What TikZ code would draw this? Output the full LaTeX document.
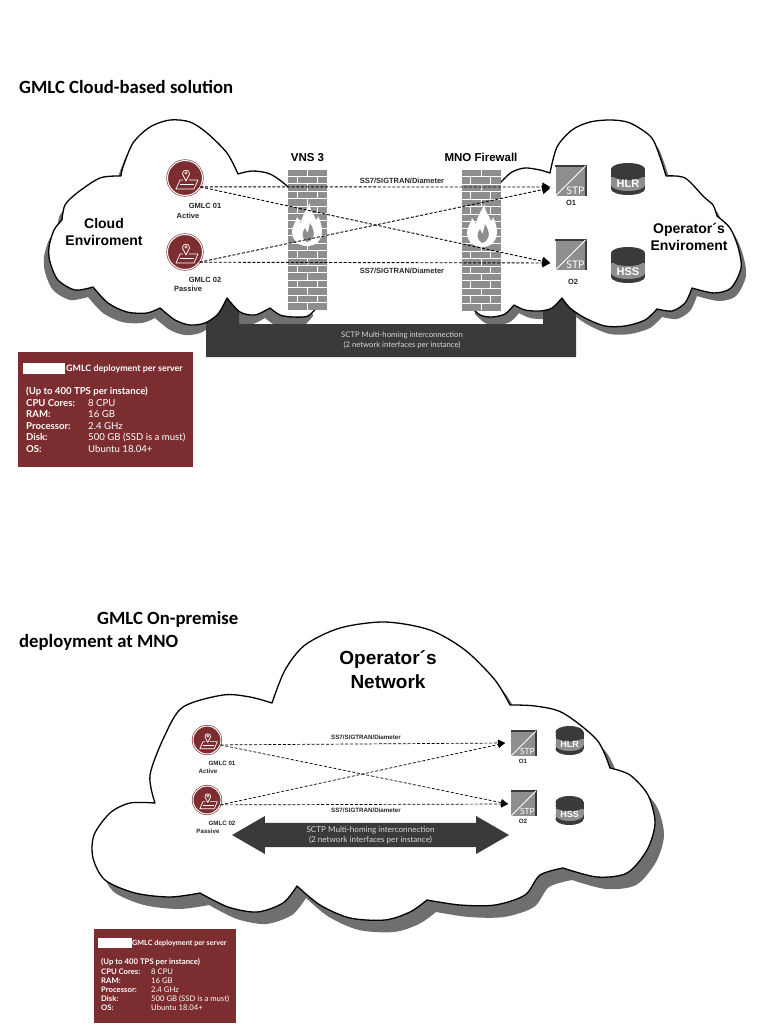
\documentclass[tikz,border=0pt]{standalone}
\usepackage{fontspec}
\setmainfont{Liberation Sans}
\newfontfamily\titlefont{Carlito}
\newfontfamily\boxfont{Lato}
\usetikzlibrary{calc}
\usetikzlibrary{positioning}
\usetikzlibrary{arrows.meta}
\usetikzlibrary{shapes.arrows}

\definecolor{maroon}{HTML}{7B2D30}
\definecolor{slab}{HTML}{3A3A3C}
\definecolor{shade}{HTML}{6F6F71}
\definecolor{brick}{HTML}{8E8E90}

\newcommand{\fsize}[1]{\fontsize{#1}{#1}\selectfont}

\tikzset{
    heading/.style={font=\titlefont\bfseries\fsize{18.7}, inner sep=0pt, anchor=west},
    tag/.style={font=\bfseries\fsize{#1}, inner sep=0pt, align=center},
    tiny/.style={font=\bfseries\fsize{#1}, inner sep=0pt, text=black!85},
    bodytext/.style={font=\boxfont\fsize{#1}, inner sep=0pt, text=black!15, align=center},
    spec/.style={font=\boxfont\fsize{#1}, inner sep=0pt, text=white, anchor=west},
    specb/.style={font=\boxfont\bfseries\fsize{#1}, inner sep=0pt, text=white, anchor=west},
    gmlc/.style={circle, draw=maroon, double=white, double distance=1pt, line width=.6pt, fill=maroon, inner sep=0pt},
    wall/.style={rectangle, fill=brick, inner sep=0pt, minimum width=39pt, minimum height=141pt},
    stpbox/.style={rectangle, fill=brick, inner sep=0pt},
    link/.style={dash pattern=on 3pt off 1.8pt, line width=.9pt, black},
    cloudshape/.style={fill=white, draw=black, line width=1.3pt, line join=round},
    cloudshade/.style={fill=shade},
    gmlcicon/.pic={
        \draw[white, line width=.7pt, line join=round]
            (-2,2) -- (-5,2) -- (-9,11) -- (9,11) -- (13,2) -- (4,2);
        \draw[white, line width=.6pt] (-5,6) -- (9,6);
        \draw[white, line width=.7pt, line join=round]
            (1,3) -- (-2.5,-4) .. controls (-3.5,-9) and (5.5,-9) .. (4.5,-4) -- cycle;
        \draw[white, line width=.5pt] (1,-5) circle (1.2);
    },
}

% one course of bricks after the other
\newcommand{\brickwall}[2]{
    \foreach \r in {0,...,18} {
        \pgfmathsetmacro{\yy}{#2+\r*7.42}
        \draw[white, line width=.9pt] (#1,\yy) -- (#1+39,\yy);
        \pgfmathparse{int(mod(\r,2))}
        \ifnum\pgfmathresult=0
            \draw[white, line width=.9pt] (#1+19.5,\yy) -- (#1+19.5,\yy+7.42);
        \else
            \draw[white, line width=.9pt] (#1+9,\yy) -- (#1+9,\yy+7.42);
            \draw[white, line width=.9pt] (#1+29,\yy) -- (#1+29,\yy+7.42);
        \fi
    }
}

\newcommand{\flame}[2]{
    \begin{scope}[shift={(#1,#2)}]
        \fill[white] (0,22) .. controls (-10,22) and (-15,15) .. (-15,8)
            .. controls (-15,2) and (-11,-2) .. (-10,-7)
            .. controls (-8,-4) and (-7,-3) .. (-6,-1)
            .. controls (-5,-8) and (-1,-14) .. (3,-21)
            .. controls (2,-14) and (7,-10) .. (9,-4)
            .. controls (10,-5) and (11,-6) .. (11,-8)
            .. controls (14,-2) and (15,3) .. (15,8)
            .. controls (15,15) and (10,22) .. (0,22) -- cycle;
        \fill[brick] (0,18) .. controls (-5,15) and (-6,9) .. (-2,4)
            .. controls (-1,7) and (0,8) .. (1,9)
            .. controls (1,5) and (3,2) .. (3,-1)
            .. controls (6,4) and (8,9) .. (6,13)
            .. controls (5,16) and (3,17) .. (0,18) -- cycle;
    \end{scope}
}

% dark body, lighter band, dark lid
\newcommand{\database}[7]{
    \fill[slab] (#2-#5,#3-#6+6) rectangle (#2+#5,#3+#6-6);
    \fill[slab] (#2,#3+#6-6) ellipse [x radius=#5, y radius=6];
    \fill[brick] (#2-#5,#3-2) rectangle (#2+#5,#3+#6-10);
    \fill[brick] (#2,#3+#6-10) ellipse [x radius=#5, y radius=6];
    \fill[slab] (#2-#5,#3-#6+6) rectangle (#2+#5,#3-5);
    \fill[slab] (#2,#3-5) ellipse [x radius=#5, y radius=6];
    \fill[slab] (#2,#3-#6+6) ellipse [x radius=#5, y radius=6];
    \node[tag=#7, text=white] (#1) at (#2,#3+#6-11) {#4};
}

\def\cloudleft{
    (121,176) -- plot[smooth] coordinates {(121,176) (123,167) (133,143) (150,127) (170,120) (190,122) (207,133) (227,153) (238,174)}
    -- plot[smooth] coordinates {(238,174) (252,171) (270,174) (288,187) (300,205)}
    -- (318,306)
    -- plot[smooth] coordinates {(318,306) (308,316) (293,317) (280,315) (270,308)}
    -- plot[smooth] coordinates {(270,308) (255,315) (240,312) (227,298)}
    -- plot[smooth] coordinates {(227,298) (218,314) (205,323) (190,325) (175,320) (160,308)}
    -- plot[smooth] coordinates {(160,308) (147,313) (127,312) (108,303) (93,287)}
    -- plot[smooth] coordinates {(93,287) (75,290) (58,280) (50,262) (49,247) (54,230) (62,220)}
    -- plot[smooth] coordinates {(62,220) (65,205) (77,193) (100,178) (121,176)}
    -- cycle
}
\def\cloudright{
    (550,173) -- plot[smooth] coordinates {(550,173) (557,147) (572,130) (590,122) (611,120) (630,123) (651,137) (660,157) (666,176)}
    -- plot[smooth] coordinates {(666,176) (685,178) (704,197) (713,205) (717,216)}
    -- plot[smooth] coordinates {(717,216) (730,228) (738,247) (741,268) (731,288) (714,293) (692,288)}
    -- plot[smooth] coordinates {(692,288) (685,303) (672,311) (657,309)}
    -- plot[smooth] coordinates {(657,309) (645,320) (625,326) (605,326) (585,318) (570,308) (562,298)}
    -- plot[smooth] coordinates {(562,298) (552,308) (540,311) (525,310) (514,305)}
    -- plot[smooth] coordinates {(514,305) (505,314) (492,317) (480,315) (470,306)}
    -- (480,200)
    -- plot[smooth] coordinates {(490,195) (501,182) (512,172) (525,168) (540,170) (550,173)}
    -- cycle
}
\def\cloudnet{
    (272,703) -- plot[smooth] coordinates {(272,703) (285,670) (305,645) (340,628) (385,622) (430,630) (465,650) (495,680) (510,705)}
    -- plot[smooth] coordinates {(510,705) (535,706) (563,713) (597,740) (610,768)}
    -- plot[smooth] coordinates {(610,768) (630,775) (648,795) (655,823) (647,850) (627,873) (597,877) (563,868)}
    -- plot[smooth] coordinates {(563,868) (540,875) (525,895) (495,905) (460,905) (427,900)}
    -- plot[smooth] coordinates {(427,900) (410,912) (385,920) (350,918) (320,905) (297,886)}
    -- plot[smooth] coordinates {(297,886) (283,903) (257,912) (228,907) (200,893)}
    -- plot[smooth] coordinates {(200,893) (170,897) (135,893) (105,880) (93,858) (94,835) (110,813) (130,803) (155,803)}
    -- plot[smooth] coordinates {(155,803) (150,775) (165,735) (183,707) (223,695) (250,697) (272,703)}
    -- cycle
}

\begin{document}
\begin{tikzpicture}[x=1pt, y=-1pt]

    \useasboundingbox (0,0) rectangle (768,1024);

    % Upper picture: cloud based
    \node[heading] (title1) at (19,87) {GMLC Cloud-based solution};

    \fill[cloudshade, shift={(-5,10)}] \cloudleft;
    \fill[cloudshade, shift={(5,8)}] \cloudright;

    \fill[slab] (206,280) -- (239,280) -- (239,324) -- (543,324) -- (543,280)
        -- (576,280) -- (576,357) -- (206,357) -- cycle;
    \node[bodytext=7.7] (sctp1) at (402,340.5)
        {SCTP Multi-homing interconnection\\[2.6pt](2 network interfaces per instance)};

    \path[cloudshape] \cloudleft;
    \path[cloudshape] \cloudright;

    \node[wall] (vns) at (307.5,239.5) {};
    \brickwall{288}{169}
    \flame{307}{224}
    \node[wall] (mno) at (481,240) {};
    \brickwall{461.5}{169.5}
    \flame{482}{225}

    \node[tag=11.5] (vnslab) [above=7pt of vns] {VNS 3};
    \node[tag=11.5] (mnolab) [above=7pt of mno] {MNO Firewall};
    \node[tag=14] (cloudlab) at (104,232) {Cloud\\[3pt]Enviroment};
    \node[tag=14] (oplab) at (689,237) {Operator´s\\[3pt]Enviroment};

    \node[gmlc, minimum size=35pt] (g1) at (185,178) {};
    \node[gmlc, minimum size=35pt] (g2) at (185,252) {};
    \pic at (g1) {gmlcicon};
    \pic at (g2) {gmlcicon};
    \node[tiny=7.5] (g1a) at (205,206) {GMLC 01};
    \node[tiny=7.5] (g1b) at (188,216) {Active};
    \node[tiny=7.5] (g2a) at (205,280) {GMLC 02};
    \node[tiny=7.5] (g2b) at (188,289) {Passive};

    \node[stpbox, minimum size=30pt] (o1) at (570.5,181) {};
    \node[stpbox, minimum size=30pt] (o2) at (570.5,255) {};
    \foreach \s in {o1,o2} {
        \draw[slab, line width=2pt] (\s.north west) -- (\s.north east) -- (\s.south east);
        \draw[white, line width=1pt] (\s.south west) -- (\s.north east);
        \node[font=\boxfont\fsize{10.5}, text=white, inner sep=0pt, anchor=south east] (\s-t) at ($(\s.south east)+(-1,-1)$) {STP};
    }
    \node[tiny=7.5] (o1lab) at (571,203) {O1};
    \node[tiny=7.5] (o2lab) at (573,282) {O2};

    \database{hlr}{628}{179}{HLR}{17}{16}{11}
    \database{hss}{628}{265}{HSS}{17}{18}{11}

    \begin{scope}[link, -{Triangle[length=8pt, width=9pt]}]
        \draw (g1.-30) -- ($(o1.west)+(-5,6)$);
        \draw (g1.-30) -- ($(o2.west)+(-5,8)$);
        \draw (g2.-35) -- ($(o1.west)+(-5,7)$);
        \draw (g2.-35) -- ($(o2.west)+(-5,8)$);
    \end{scope}
    \node[tiny=7.5] (ss1) at (402,180.5) {SS7/SIGTRAN/Diameter};
    \node[tiny=7.5] (ss2) at (402,271) {SS7/SIGTRAN/Diameter};

    % Spec box of the upper picture
    \fill[maroon] (18,352) rectangle (193,467);
    \fill[white] (23,363) rectangle (65,374);
    \node[specb=8.9] (head1) at (66,369) {GMLC deployment per server};
    \node[specb=9.6] (tps1) at (26,391.5) {(Up to 400 TPS per instance)};
    \foreach \y/\k/\v in {403/CPU Cores:/8 CPU, 414/RAM:/16 GB, 426/Processor:/2.4 GHz, 437/Disk:/500 GB (SSD is a must), 449/OS:/Ubuntu 18.04+} {
        \node[specb=9.6] (ka\y) at (26,\y) {\k};
        \node[spec=9.6] (va\y) at (88,\y) {\v};
    }

    % Lower picture: on premise
    \node[heading] (title2) at (97,619) {GMLC On-premise};
    \node[heading] (title3) at (19,642) {deployment at MNO};

    \fill[cloudshade, shift={(9,12)}] \cloudnet;
    \path[cloudshape] \cloudnet;

    \node[tag=19] (netlab) at (388,669.5) {Operator´s\\[5pt]Network};

    \node[gmlc, minimum size=28pt] (g3) at (207,740) {};
    \node[gmlc, minimum size=28pt] (g4) at (207,800) {};
    \pic[scale=.8] at (g3) {gmlcicon};
    \pic[scale=.8] at (g4) {gmlcicon};
    \node[tiny=6.2] (g3a) at (222,763) {GMLC 01};
    \node[tiny=6.2] (g3b) at (208,771) {Active};
    \node[tiny=6.2] (g4a) at (222,823) {GMLC 02};
    \node[tiny=6.2] (g4b) at (208,831) {Passive};

    \node[stpbox, minimum size=24.5pt] (o3) at (523.5,743.5) {};
    \node[stpbox, minimum size=24.5pt] (o4) at (523.5,803.5) {};
    \foreach \s in {o3,o4} {
        \draw[slab, line width=1.6pt] (\s.north west) -- (\s.north east) -- (\s.south east);
        \draw[white, line width=.9pt] (\s.south west) -- (\s.north east);
        \node[font=\boxfont\fsize{8.5}, text=white, inner sep=0pt, anchor=south east] (\s-t) at ($(\s.south east)+(-1,-1)$) {STP};
    }
    \node[tiny=6.2] (o3lab) at (523,761) {O1};
    \node[tiny=6.2] (o4lab) at (523,821) {O2};

    \database{hlr2}{569.5}{740.5}{HLR}{14}{14.5}{9}
    \database{hss2}{569.5}{810.5}{HSS}{14}{14.5}{9}

    \begin{scope}[link, line width=.7pt, -{Triangle[length=7pt, width=7pt]}]
        \draw (g3.-20) -- ($(o3.west)+(-6,-.5)$);
        \draw (g3.-20) -- ($(o4.west)+(-3,.5)$);
        \draw (g4.-20) -- ($(o3.west)+(-6,-.5)$);
        \draw (g4.-20) -- ($(o4.west)+(-3,.5)$);
    \end{scope}
    \node[tiny=6.2] (ss3) at (366,737) {SS7/SIGTRAN/Diameter};
    \node[tiny=6.2] (ss4) at (366,810) {SS7/SIGTRAN/Diameter};

    \node[shape=double arrow, fill=slab, minimum width=38pt, minimum height=277pt,
        double arrow head extend=5pt, double arrow tip angle=60, inner sep=0pt,
        font=\boxfont\fsize{8.1}, text=black!15, align=center] (sctp2) at (370.5,835)
        {SCTP Multi-homing interconnection\\[2.2pt](2 network interfaces per instance)};

    % Spec box of the lower picture
    \fill[maroon] (94,929) rectangle (236,1023);
    \fill[white] (98,938) rectangle (132,948);
    \node[specb=7.2] (head2) at (132,943) {GMLC deployment per server};
    \node[specb=7.8] (tps2) at (101,962) {(Up to 400 TPS per instance)};
    \foreach \y/\k/\v in {972/CPU Cores:/8 CPU, 981/RAM:/16 GB, 990/Processor:/2.4 GHz, 999/Disk:/500 GB (SSD is a must), 1008/OS:/Ubuntu 18.04+} {
        \node[specb=7.7] (kb\y) at (101,\y) {\k};
        \node[spec=7.7] (vb\y) at (151,\y) {\v};
    }

\end{tikzpicture}
\end{document}
